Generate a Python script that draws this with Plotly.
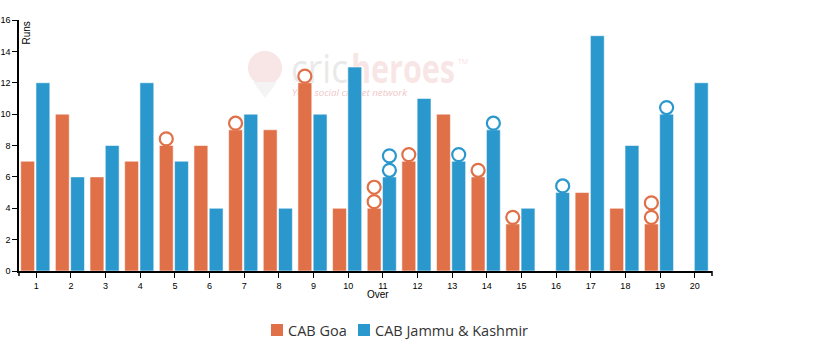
import base64
import plotly.graph_objects as go

overs = list(range(1, 21))
goa_runs = [7, 10, 6, 7, 8, 8, 9, 9, 12, 4, 4, 7, 10, 6, 3, 0, 5, 4, 3, 0]
jk_runs = [12, 6, 8, 12, 7, 4, 10, 4, 10, 13, 6, 11, 7, 9, 4, 5, 15, 8, 10, 12]
goa_wkts = [0, 0, 0, 0, 1, 0, 1, 0, 1, 0, 2, 1, 0, 1, 1, 0, 0, 0, 2, 0]
jk_wkts = [0, 0, 0, 0, 0, 0, 0, 0, 0, 0, 2, 0, 1, 1, 0, 1, 0, 0, 1, 0]
y_ticks = [0, 2, 4, 6, 8, 10, 12, 14, 16]
team_names = ["CAB Goa", "CAB Jammu & Kashmir"]

ORANGE = "#E07048"
BLUE = "#2B98CD"
BAR_W = 0.40
GOA_OFF = -0.45
JK_OFF = -0.01
WK_STEP = 0.92  # data units per stacked wicket circle
WK_BASE = 0.42

W, H = 820, 364
L, R, T, B = 19, 108, 20, 93
PW, PH = W - L - R, H - T - B


def px_x(x):
    return (x - L) / PW


def px_y(y):
    return (H - B - y) / PH


fig = go.Figure()
fig.add_trace(go.Bar(x=overs, y=goa_runs, name=team_names[0], width=BAR_W, offset=GOA_OFF,
                     showlegend=False,
                     marker=dict(color=ORANGE, line=dict(color="rgba(255,255,255,0.55)", width=1))))
fig.add_trace(go.Bar(x=overs, y=jk_runs, name=team_names[1], width=BAR_W, offset=JK_OFF,
                     showlegend=False,
                     marker=dict(color=BLUE, line=dict(color="rgba(255,255,255,0.55)", width=1))))


def wicket_points(runs, wkts, off):
    xs, ys = [], []
    for o, r, w in zip(overs, runs, wkts):
        for k in range(w):
            xs.append(o + off + BAR_W / 2)
            ys.append(r + WK_BASE + k * WK_STEP)
    return xs, ys


for runs, wkts, off, col in [(goa_runs, goa_wkts, GOA_OFF, ORANGE), (jk_runs, jk_wkts, JK_OFF, BLUE)]:
    xs, ys = wicket_points(runs, wkts, off)
    fig.add_trace(go.Scatter(x=xs, y=ys, mode="markers", showlegend=False, hoverinfo="skip",
                             marker=dict(symbol="circle", size=13, color="white",
                                         line=dict(color=col, width=2.2))))

# watermark as an svg image drawn below the bars
svg = """<svg xmlns='http://www.w3.org/2000/svg' width='240' height='70' viewBox='0 0 240 70'>
<g opacity='0.15'>
<circle cx='17' cy='24' r='17' fill='#d45a5a'/>
<path d='M5 38 L17 54 L29 38 Z' fill='#bbbbbb'/>
</g>
<text x='43' y='39' font-family='Open Sans' font-size='40' fill='#aaaaaa' opacity='0.25' textLength='57' lengthAdjust='spacingAndGlyphs'>cric</text>
<text x='103' y='39' font-family='Open Sans' font-weight='bold' font-size='40' fill='#d25a5a' opacity='0.15' textLength='104' lengthAdjust='spacingAndGlyphs'>heroes</text>
<text x='210' y='20' font-family='Open Sans' font-size='7' fill='#d25a5a' opacity='0.2'>TM</text>
<text x='44' y='52' font-family='Open Sans' font-style='italic' font-size='9' fill='#d25a5a' opacity='0.35' textLength='115' lengthAdjust='spacingAndGlyphs'>Your social cricket network</text>
</svg>"""
src = "data:image/svg+xml;base64," + base64.b64encode(svg.encode()).decode()
fig.add_layout_image(source=src, xref="paper", yref="paper", x=px_x(248), y=px_y(44),
                     sizex=240 / PW, sizey=70 / PH, xanchor="left", yanchor="top",
                     sizing="stretch", layer="below")

# axis titles
fig.add_annotation(xref="paper", yref="paper", x=px_x(26), y=1, xanchor="center", yanchor="top",
                   text="Runs", textangle=-90, showarrow=False,
                   font=dict(size=10, family="Liberation Sans, Arial", color="#000"))
fig.add_annotation(xref="paper", yref="paper", x=px_x(378), y=px_y(294),
                   xanchor="center", yanchor="middle", text="Over", showarrow=False,
                   font=dict(size=10, family="Liberation Sans, Arial", color="#000"))

# custom legend
for name, col, sx, tx in [(team_names[0], ORANGE, 271, 286), (team_names[1], BLUE, 358, 373)]:
    fig.add_shape(type="rect", xref="paper", yref="paper", x0=px_x(sx), x1=px_x(sx + 12),
                  y0=px_y(336), y1=px_y(324), fillcolor=col, line=dict(width=0))
    fig.add_annotation(xref="paper", yref="paper", x=px_x(tx), y=px_y(330), xanchor="left",
                       yanchor="middle", text=name, showarrow=False,
                       font=dict(size=14.5, family="Open Sans", color="#333"))

axis_common = dict(showgrid=False, zeroline=False, showline=True, linecolor="#000", linewidth=1.5,
                   ticks="outside", ticklen=5, tickcolor="#000", automargin=False,
                   tickfont=dict(size=9, family="Liberation Sans, Arial", color="#000"), fixedrange=True)

fig.update_layout(
    width=W, height=H,
    margin=dict(l=L, r=R, t=T, b=B, autoexpand=False),
    plot_bgcolor="rgba(0,0,0,0)", paper_bgcolor="white",
    barmode="overlay",
    showlegend=False,
    xaxis=dict(range=[0.5, 20.5], tickmode="array", tickvals=overs, ticktext=[str(o) for o in overs],
               **axis_common),
    yaxis=dict(range=[0, 16], tickmode="array", tickvals=y_ticks, ticktext=[str(t) for t in y_ticks],
               **axis_common),
)
# outer end ticks of x axis
for xe in (0, 1):
    fig.add_shape(type="line", xref="paper", yref="paper", x0=xe, x1=xe, y0=0, y1=-5 / PH,
                  line=dict(color="#000", width=1.5))

fig.write_html("out.html", config={"displayModeBar": False},
               post_script="document.body.style.margin='0';document.body.style.overflow='hidden';")
